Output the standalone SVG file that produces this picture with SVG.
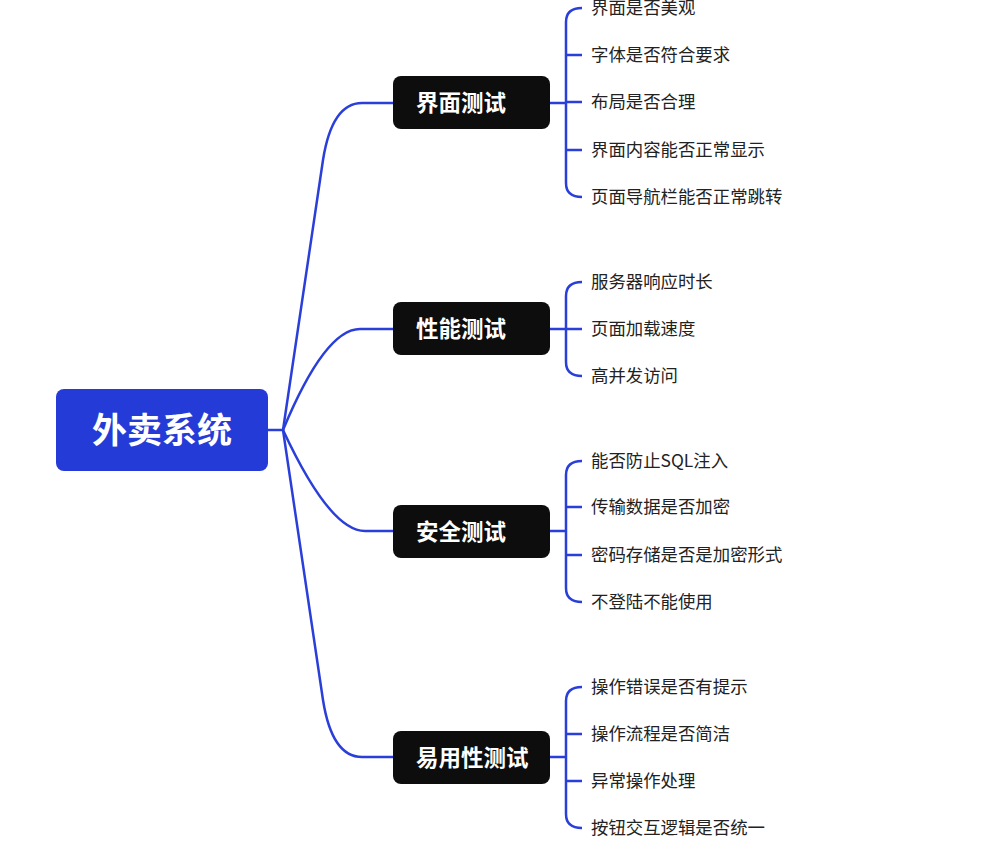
<svg xmlns="http://www.w3.org/2000/svg" width="983" height="855" viewBox="0 0 983 855">
<style>
.c{fill:none;stroke:#2a3fd9;stroke-width:2.5}
.b{fill:#0d0d0d}
.bt{font-family:"Noto Sans CJK SC",sans-serif;font-weight:700;font-size:22.5px;fill:#fff}
.lt{font-family:"Noto Sans CJK SC",sans-serif;font-size:17.4px;fill:#222}
</style>
<rect width="983" height="855" fill="#fff"/>
<g id="connectors">
<path class="c" d="M268 430H283"/>
<path class="c" d="M283 430L323 160Q332 103 362 103H393"/>
<path class="c" d="M283 430Q325 329 360 329H393"/>
<path class="c" d="M283 430Q330 531 365 531H393"/>
<path class="c" d="M283 430L323 700Q332 757 362 757H393"/>
<path class="c" d="M550 103H566M582 8Q566 8 566 22V183Q566 197 582 197M566 55Q566 55 582 55M566 102H582M566 150H582"/>
<path class="c" d="M550 329H566M582 282Q566 282 566 296V362Q566 376 582 376M566 329H582"/>
<path class="c" d="M550 531H566M582 461Q566 461 566 475V588Q566 602 582 602M566 507H582M566 555H582"/>
<path class="c" d="M550 757H566M582 687Q566 687 566 701V814Q566 828 582 828M566 734H582M566 781H582"/>
</g>
<g id="root"><rect x="56" y="389" width="212" height="82" rx="8" fill="#243bd8"/><text x="162" y="443" text-anchor="middle" font-family="Noto Sans CJK SC,sans-serif" font-weight="700" font-size="35" fill="#fff">外卖系统</text></g>
<g id="n1"><rect class="b" x="393" y="76" width="157" height="53" rx="8"/><text class="bt" x="416" y="111">界面测试</text></g>
<g id="n2"><rect class="b" x="393" y="302" width="157" height="53" rx="8"/><text class="bt" x="416" y="337">性能测试</text></g>
<g id="n3"><rect class="b" x="393" y="505" width="157" height="53" rx="8"/><text class="bt" x="416" y="540">安全测试</text></g>
<g id="n4"><rect class="b" x="393" y="731" width="157" height="53" rx="8"/><text class="bt" x="416" y="766">易用性测试</text></g>
<g id="leaves">
<text class="lt" x="591" y="14">界面是否美观</text>
<text class="lt" x="591" y="61">字体是否符合要求</text>
<text class="lt" x="591" y="108">布局是否合理</text>
<text class="lt" x="591" y="156">界面内容能否正常显示</text>
<text class="lt" x="591" y="203">页面导航栏能否正常跳转</text>
<text class="lt" x="591" y="288">服务器响应时长</text>
<text class="lt" x="591" y="335">页面加载速度</text>
<text class="lt" x="591" y="382">高并发访问</text>
<text class="lt" x="591" y="467">能否防止SQL注入</text>
<text class="lt" x="591" y="513">传输数据是否加密</text>
<text class="lt" x="591" y="561">密码存储是否是加密形式</text>
<text class="lt" x="591" y="608">不登陆不能使用</text>
<text class="lt" x="591" y="693">操作错误是否有提示</text>
<text class="lt" x="591" y="740">操作流程是否简洁</text>
<text class="lt" x="591" y="787">异常操作处理</text>
<text class="lt" x="591" y="834">按钮交互逻辑是否统一</text>
</g>
</svg>
